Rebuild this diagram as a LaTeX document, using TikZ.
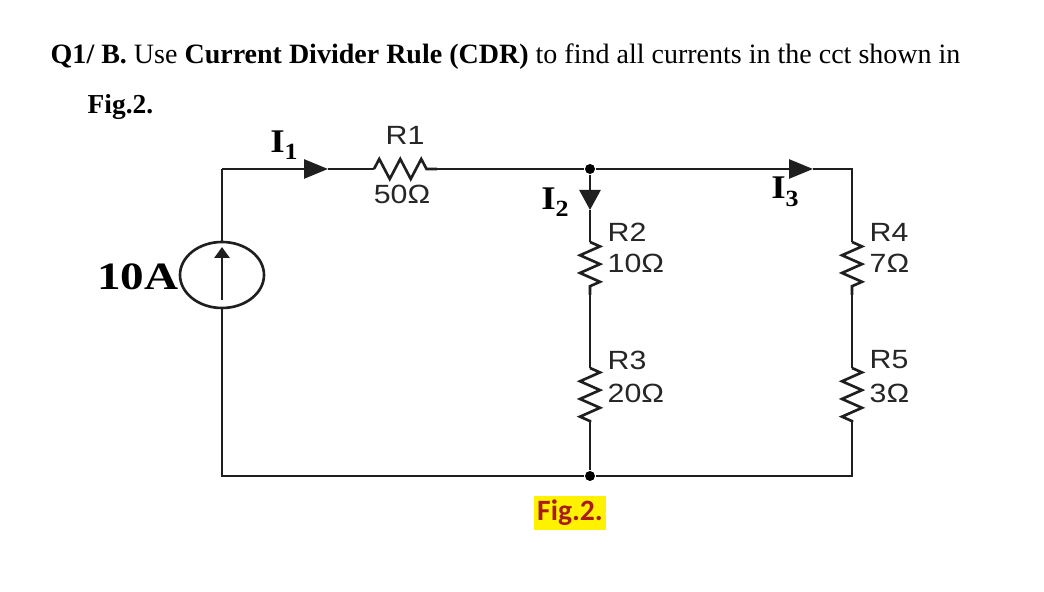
\documentclass[tikz,border=0pt]{standalone}
\usepackage{fontspec}
\setmainfont{Liberation Serif}
\setsansfont{Liberation Sans}
\newfontfamily\figfont{Carlito}
\newfontfamily\valfont[FakeStretch=1.15]{Liberation Sans}
\newfontfamily\srcfont[FakeStretch=1.22]{Liberation Serif}
\newfontfamily\curfont[FakeStretch=1.12]{Liberation Serif}
\usepackage{xcolor}
\usetikzlibrary{arrows.meta,decorations.pathmorphing,shapes.geometric,positioning}
\definecolor{figred}{HTML}{A81C14}
\definecolor{figyellow}{HTML}{FFF200}
\newcommand{\subI}[1]{I\raisebox{-0.5ex}{\fontsize{6.6}{7}\selectfont #1}}
\tikzset{
  wire/.style={line width=0.75pt,color=black!88},
  zig/.style={wire,decorate,decoration={zigzag,segment length=2.1mm,amplitude=1mm}},
  zigv/.style={wire,decorate,decoration={zigzag,segment length=1.77mm,amplitude=1mm}},
  headh/.style={wire,-{Triangle[length=2.4mm,width=1.9mm]}},
  headv/.style={wire,-{Triangle[length=2mm,width=2.1mm]}},
  val/.style={font=\valfont\fontsize{7.5}{8}\selectfont,color=black!85,inner sep=0pt,anchor=west},
  cur/.style={font=\curfont\bfseries\fontsize{9.4}{10}\selectfont,inner sep=0pt},
  dot/.style={circle,fill=black,inner sep=0pt,minimum size=1mm},
}
\begin{document}
\begin{tikzpicture}[scale=1]
\useasboundingbox [fill=white] (0,0) rectangle (10.44,5.92);

%text
\node (line1) [anchor=base west,inner sep=0pt,font=\fontsize{7.97}{9}\selectfont] at (0.5,5.285)
  {\textbf{Q1/ B.} Use \textbf{Current Divider Rule (CDR)} to find all currents in the cct shown in};
\node (line2) [anchor=base west,inner sep=0pt,font=\bfseries\fontsize{7.8}{9}\selectfont] at (0.87,4.785) {Fig.2.};

%corners
\coordinate (tl) at (2.22,4.23);
\coordinate (tr) at (8.52,4.23);
\coordinate (bl) at (2.22,1.16);
\coordinate (br) at (8.52,1.16);
\node (top) [dot] at (5.9,4.23) {};
\node (bot) [dot] at (5.9,1.16) {};

%source
\node (src) [ellipse,draw,wire,minimum width=0.84cm,minimum height=0.66cm,inner sep=0pt] at (2.22,3.17) {};
\coordinate (srcs) at (2.22,2.92);
\coordinate (srce) at (2.22,3.45);
\draw [wire,-{Triangle[length=1.1mm,width=1.5mm]}] (srcs) -- (srce);
\node (srcl) [font=\srcfont\bfseries\fontsize{11}{12}\selectfont,inner sep=0pt,anchor=east] at (1.79,3.15) {10A};

%R1
\coordinate (r1a) at (3.74,4.23);
\coordinate (r1b) at (4.37,4.23);
\coordinate (i1) at (3.28,4.23);
\draw [headh] (tl) -- (i1);
\draw [wire] (i1) -- (r1a);
\draw [zig] (r1a) -- (r1b);
\draw [wire] (r1b) -- (top);
\node (r1n) [val,anchor=center] at (4.05,4.57) {R1};
\node (r1v) [val,anchor=center] at (4.02,3.98) {50Ω};
\node (i1n) [cur] at (2.84,4.47) {\subI{1}};

%R2 R3
\coordinate (i2) at (5.9,3.82);
\coordinate (r2a) at (5.9,3.5);
\coordinate (r2b) at (5.9,2.97);
\coordinate (r3a) at (5.9,2.24);
\coordinate (r3b) at (5.9,1.7);
\draw [headv] (top) -- (i2);
\draw [wire] (i2) -- (r2a);
\draw [zigv] (r2a) -- (r2b);
\draw [wire] (r2b) -- (r3a);
\draw [zigv] (r3a) -- (r3b);
\draw [wire] (r3b) -- (bot);
\node (r2n) [val] at (6.07,3.6) {R2};
\node (r2v) [val] at (6.07,3.29) {10Ω};
\node (r3n) [val] at (6.07,2.32) {R3};
\node (r3v) [val] at (6.07,1.99) {20Ω};
\node (i2n) [cur] at (5.55,3.9) {\subI{2}};

%R4 R5
\coordinate (i3) at (8.13,4.23);
\coordinate (r4a) at (8.52,3.5);
\coordinate (r4b) at (8.52,2.97);
\coordinate (r5a) at (8.52,2.24);
\coordinate (r5b) at (8.52,1.7);
\draw [headh] (top) -- (i3);
\draw [wire] (i3) -- (tr) -- (r4a);
\draw [zigv] (r4a) -- (r4b);
\draw [wire] (r4b) -- (r5a);
\draw [zigv] (r5a) -- (r5b);
\draw [wire] (r5b) -- (br) -- (bot);
\node (r4n) [val] at (8.69,3.6) {R4};
\node (r4v) [val] at (8.69,3.29) {7Ω};
\node (r5n) [val] at (8.69,2.32) {R5};
\node (r5v) [val] at (8.69,1.99) {3Ω};
\node (i3n) [cur] at (7.85,4.0) {\subI{3}};

%left side
\draw [wire] (src.north) -- (tl);
\draw [wire] (src.south) -- (bl) -- (bot);

%caption
\node (fig) [fill=figyellow,text=figred,font=\figfont\bfseries\fontsize{8.4}{9}\selectfont,minimum width=0.72cm,minimum height=0.34cm,inner sep=0pt] at (5.7,0.79) {Fig.2.};
\end{tikzpicture}
\end{document}
